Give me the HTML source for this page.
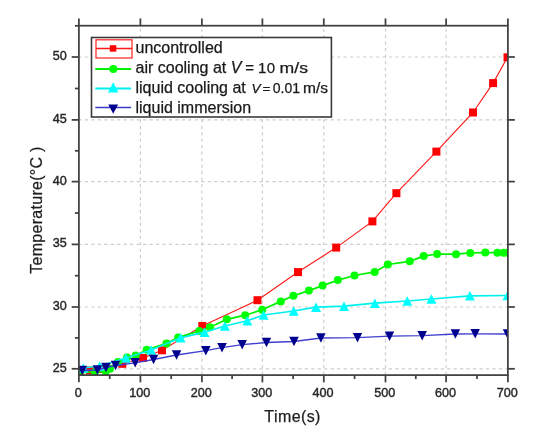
<!DOCTYPE html>
<html><head><meta charset="utf-8"><title>Temperature vs Time</title>
<style>
html,body{margin:0;padding:0;background:#fff;}
body{width:550px;height:440px;overflow:hidden;}
svg{display:block;filter:blur(0.35px);}
</style></head><body>
<svg width="550" height="440" viewBox="0 0 550 440">
<defs><clipPath id="pa"><rect x="78.9" y="25.7" width="429.0" height="349.4"/></clipPath></defs>
<g stroke="#cdcdcd" stroke-width="1.2" stroke-dasharray="3.2 3.27"><line x1="140.4" y1="375.05" x2="140.4" y2="25.7" stroke-dashoffset="-0.28"/><line x1="201.9" y1="375.05" x2="201.9" y2="25.7" stroke-dashoffset="-0.28"/><line x1="262.4" y1="375.05" x2="262.4" y2="25.7" stroke-dashoffset="-0.28"/><line x1="323.8" y1="375.05" x2="323.8" y2="25.7" stroke-dashoffset="-0.28"/><line x1="385.5" y1="375.05" x2="385.5" y2="25.7" stroke-dashoffset="-0.28"/><line x1="446.1" y1="375.05" x2="446.1" y2="25.7" stroke-dashoffset="-0.28"/><line x1="78.9" y1="368.8" x2="507.85" y2="368.8" stroke-dashoffset="0.57"/><line x1="78.9" y1="307.0" x2="507.85" y2="307.0" stroke-dashoffset="0.57"/><line x1="78.9" y1="244.4" x2="507.85" y2="244.4" stroke-dashoffset="0.57"/><line x1="78.9" y1="181.6" x2="507.85" y2="181.6" stroke-dashoffset="0.57"/><line x1="78.9" y1="119.9" x2="507.85" y2="119.9" stroke-dashoffset="0.57"/><line x1="78.9" y1="57.0" x2="507.85" y2="57.0" stroke-dashoffset="0.57"/></g>
<g clip-path="url(#pa)">
<polyline points="80.0,373.0 89.9,370.5 101.0,369.0 122.3,363.8 143.1,358.0 162.0,350.3 202.3,326.0 257.5,300.2 298.0,272.1 336.2,247.6 372.4,221.4 396.4,193.2 436.4,151.6 473.0,112.5 493.1,83.1 507.5,57.3" fill="none" stroke="#ff1a1a" stroke-width="1.15"/>
<rect x="76.0" y="369.0" width="8" height="8" fill="#f00"/><rect x="85.9" y="366.5" width="8" height="8" fill="#f00"/><rect x="97.0" y="365.0" width="8" height="8" fill="#f00"/><rect x="118.3" y="359.8" width="8" height="8" fill="#f00"/><rect x="139.1" y="354.0" width="8" height="8" fill="#f00"/><rect x="158.0" y="346.3" width="8" height="8" fill="#f00"/><rect x="198.3" y="322.0" width="8" height="8" fill="#f00"/><rect x="253.5" y="296.2" width="8" height="8" fill="#f00"/><rect x="294.0" y="268.1" width="8" height="8" fill="#f00"/><rect x="332.2" y="243.6" width="8" height="8" fill="#f00"/><rect x="368.4" y="217.4" width="8" height="8" fill="#f00"/><rect x="392.4" y="189.2" width="8" height="8" fill="#f00"/><rect x="432.4" y="147.6" width="8" height="8" fill="#f00"/><rect x="469.0" y="108.5" width="8" height="8" fill="#f00"/><rect x="489.1" y="79.1" width="8" height="8" fill="#f00"/><rect x="503.5" y="53.3" width="8" height="8" fill="#f00"/>
<polyline points="79.5,372.7 95.0,372.0 105.5,371.5 110.0,368.7 118.0,362.0 127.0,357.5 135.7,355.4 146.7,349.7 166.5,343.4 178.2,337.4 199.2,331.0 210.0,327.2 226.8,319.3 245.2,315.2 262.2,309.7 280.8,301.4 293.4,295.8 308.9,290.6 322.6,285.6 337.8,280.1 354.5,275.5 374.7,271.9 387.8,264.5 409.7,261.3 423.7,256.1 437.1,254.0 456.0,254.2 470.3,252.9 485.3,252.6 497.4,252.7 503.7,252.7 507.5,252.7" fill="none" stroke="#00f000" stroke-width="1.7"/>
<circle cx="79.5" cy="372.7" r="4.0" fill="#0f0"/><circle cx="95.0" cy="372.0" r="4.0" fill="#0f0"/><circle cx="105.5" cy="371.5" r="4.0" fill="#0f0"/><circle cx="110.0" cy="368.7" r="4.0" fill="#0f0"/><circle cx="118.0" cy="362.0" r="4.0" fill="#0f0"/><circle cx="127.0" cy="357.5" r="4.0" fill="#0f0"/><circle cx="135.7" cy="355.4" r="4.0" fill="#0f0"/><circle cx="146.7" cy="349.7" r="4.0" fill="#0f0"/><circle cx="166.5" cy="343.4" r="4.0" fill="#0f0"/><circle cx="178.2" cy="337.4" r="4.0" fill="#0f0"/><circle cx="199.2" cy="331.0" r="4.0" fill="#0f0"/><circle cx="210.0" cy="327.2" r="4.0" fill="#0f0"/><circle cx="226.8" cy="319.3" r="4.0" fill="#0f0"/><circle cx="245.2" cy="315.2" r="4.0" fill="#0f0"/><circle cx="262.2" cy="309.7" r="4.0" fill="#0f0"/><circle cx="280.8" cy="301.4" r="4.0" fill="#0f0"/><circle cx="293.4" cy="295.8" r="4.0" fill="#0f0"/><circle cx="308.9" cy="290.6" r="4.0" fill="#0f0"/><circle cx="322.6" cy="285.6" r="4.0" fill="#0f0"/><circle cx="337.8" cy="280.1" r="4.0" fill="#0f0"/><circle cx="354.5" cy="275.5" r="4.0" fill="#0f0"/><circle cx="374.7" cy="271.9" r="4.0" fill="#0f0"/><circle cx="387.8" cy="264.5" r="4.0" fill="#0f0"/><circle cx="409.7" cy="261.3" r="4.0" fill="#0f0"/><circle cx="423.7" cy="256.1" r="4.0" fill="#0f0"/><circle cx="437.1" cy="254.0" r="4.0" fill="#0f0"/><circle cx="456.0" cy="254.2" r="4.0" fill="#0f0"/><circle cx="470.3" cy="252.9" r="4.0" fill="#0f0"/><circle cx="485.3" cy="252.6" r="4.0" fill="#0f0"/><circle cx="497.4" cy="252.7" r="4.0" fill="#0f0"/><circle cx="503.7" cy="252.7" r="4.0" fill="#0f0"/><circle cx="507.5" cy="252.7" r="4.0" fill="#0f0"/>
<polyline points="83.4,368.0 99.6,366.0 125.9,358.0 151.2,350.0 180.6,337.8 204.5,332.2 224.8,326.0 247.3,320.8 263.6,315.0 293.7,311.0 316.0,307.2 344.0,306.1 374.9,303.2 407.3,301.0 431.4,299.0 469.9,295.9 507.5,295.5" fill="none" stroke="#00f0f0" stroke-width="1.7"/>
<polygon points="78.4,372.8 88.4,372.8 83.4,363.2" fill="#0ff"/><polygon points="94.6,370.8 104.6,370.8 99.6,361.2" fill="#0ff"/><polygon points="120.9,362.8 130.9,362.8 125.9,353.2" fill="#0ff"/><polygon points="146.2,354.8 156.2,354.8 151.2,345.2" fill="#0ff"/><polygon points="175.6,342.6 185.6,342.6 180.6,333.1" fill="#0ff"/><polygon points="199.5,336.9 209.5,336.9 204.5,327.4" fill="#0ff"/><polygon points="219.8,330.8 229.8,330.8 224.8,321.2" fill="#0ff"/><polygon points="242.3,325.6 252.3,325.6 247.3,316.1" fill="#0ff"/><polygon points="258.6,319.8 268.6,319.8 263.6,310.2" fill="#0ff"/><polygon points="288.7,315.8 298.7,315.8 293.7,306.2" fill="#0ff"/><polygon points="311.0,311.9 321.0,311.9 316.0,302.4" fill="#0ff"/><polygon points="339.0,310.9 349.0,310.9 344.0,301.4" fill="#0ff"/><polygon points="369.9,307.9 379.9,307.9 374.9,298.4" fill="#0ff"/><polygon points="402.3,305.8 412.3,305.8 407.3,296.2" fill="#0ff"/><polygon points="426.4,303.8 436.4,303.8 431.4,294.2" fill="#0ff"/><polygon points="464.9,300.6 474.9,300.6 469.9,291.1" fill="#0ff"/><polygon points="502.5,300.2 512.5,300.2 507.5,290.8" fill="#0ff"/>
<polyline points="82.2,370.5 97.4,370.0 106.0,367.5 115.5,365.5 135.2,362.8 153.6,359.5 176.6,355.0 205.8,350.7 222.0,347.6 242.2,344.7 266.5,342.5 294.0,341.5 320.9,338.0 357.5,337.7 389.5,336.2 422.2,335.6 455.4,334.0 475.2,333.9 507.5,334.0" fill="none" stroke="#4040d0" stroke-width="1.35"/>
<polygon points="77.5,365.8 87.0,365.8 82.2,375.2" fill="#00008e"/><polygon points="92.7,365.2 102.2,365.2 97.4,374.8" fill="#00008e"/><polygon points="101.2,362.8 110.8,362.8 106.0,372.2" fill="#00008e"/><polygon points="110.8,360.8 120.2,360.8 115.5,370.2" fill="#00008e"/><polygon points="130.4,358.1 139.9,358.1 135.2,367.6" fill="#00008e"/><polygon points="148.8,354.8 158.3,354.8 153.6,364.2" fill="#00008e"/><polygon points="171.8,350.2 181.3,350.2 176.6,359.8" fill="#00008e"/><polygon points="201.1,345.9 210.6,345.9 205.8,355.4" fill="#00008e"/><polygon points="217.2,342.9 226.8,342.9 222.0,352.4" fill="#00008e"/><polygon points="237.4,339.9 246.9,339.9 242.2,349.4" fill="#00008e"/><polygon points="261.8,337.8 271.2,337.8 266.5,347.2" fill="#00008e"/><polygon points="289.2,336.8 298.8,336.8 294.0,346.2" fill="#00008e"/><polygon points="316.1,333.2 325.6,333.2 320.9,342.8" fill="#00008e"/><polygon points="352.8,332.9 362.2,332.9 357.5,342.4" fill="#00008e"/><polygon points="384.8,331.4 394.2,331.4 389.5,340.9" fill="#00008e"/><polygon points="417.4,330.9 426.9,330.9 422.2,340.4" fill="#00008e"/><polygon points="450.6,329.2 460.1,329.2 455.4,338.8" fill="#00008e"/><polygon points="470.4,329.1 479.9,329.1 475.2,338.6" fill="#00008e"/><polygon points="502.8,329.2 512.2,329.2 507.5,338.8" fill="#00008e"/>
</g>
<g stroke="#404040" stroke-width="1.75" fill="none"><rect x="78.9" y="25.7" width="429.0" height="349.4" fill="none"/><line x1="78.9" y1="375.05" x2="78.9" y2="382.35"/><line x1="78.9" y1="25.7" x2="78.9" y2="18.4"/><line x1="140.4" y1="375.05" x2="140.4" y2="382.35"/><line x1="140.4" y1="25.7" x2="140.4" y2="18.4"/><line x1="201.9" y1="375.05" x2="201.9" y2="382.35"/><line x1="201.9" y1="25.7" x2="201.9" y2="18.4"/><line x1="262.4" y1="375.05" x2="262.4" y2="382.35"/><line x1="262.4" y1="25.7" x2="262.4" y2="18.4"/><line x1="323.8" y1="375.05" x2="323.8" y2="382.35"/><line x1="323.8" y1="25.7" x2="323.8" y2="18.4"/><line x1="385.5" y1="375.05" x2="385.5" y2="382.35"/><line x1="385.5" y1="25.7" x2="385.5" y2="18.4"/><line x1="446.1" y1="375.05" x2="446.1" y2="382.35"/><line x1="446.1" y1="25.7" x2="446.1" y2="18.4"/><line x1="507.9" y1="375.05" x2="507.9" y2="382.35"/><line x1="507.9" y1="25.7" x2="507.9" y2="18.4"/><line x1="109.7" y1="375.05" x2="109.7" y2="379.05"/><line x1="171.2" y1="375.05" x2="171.2" y2="379.05"/><line x1="232.1" y1="375.05" x2="232.1" y2="379.05"/><line x1="293.1" y1="375.05" x2="293.1" y2="379.05"/><line x1="354.6" y1="375.05" x2="354.6" y2="379.05"/><line x1="415.8" y1="375.05" x2="415.8" y2="379.05"/><line x1="477.0" y1="375.05" x2="477.0" y2="379.05"/><line x1="78.9" y1="368.8" x2="71.7" y2="368.8"/><line x1="507.85" y1="368.8" x2="514.85" y2="368.8"/><line x1="78.9" y1="307.0" x2="71.7" y2="307.0"/><line x1="507.85" y1="307.0" x2="514.85" y2="307.0"/><line x1="78.9" y1="244.4" x2="71.7" y2="244.4"/><line x1="507.85" y1="244.4" x2="514.85" y2="244.4"/><line x1="78.9" y1="181.6" x2="71.7" y2="181.6"/><line x1="507.85" y1="181.6" x2="514.85" y2="181.6"/><line x1="78.9" y1="119.9" x2="71.7" y2="119.9"/><line x1="507.85" y1="119.9" x2="514.85" y2="119.9"/><line x1="78.9" y1="57.0" x2="71.7" y2="57.0"/><line x1="507.85" y1="57.0" x2="514.85" y2="57.0"/><line x1="78.9" y1="337.9" x2="74.9" y2="337.9"/><line x1="78.9" y1="275.7" x2="74.9" y2="275.7"/><line x1="78.9" y1="213.0" x2="74.9" y2="213.0"/><line x1="78.9" y1="150.8" x2="74.9" y2="150.8"/><line x1="78.9" y1="88.5" x2="74.9" y2="88.5"/><line x1="78.9" y1="25.8" x2="74.9" y2="25.8"/></g>
<g font-family="Liberation Sans, Arial, sans-serif" font-size="12.6" fill="#262626" stroke="#262626" stroke-width="0.4"><text x="78.2" y="396.5" text-anchor="middle">0</text><text x="139.7" y="396.5" text-anchor="middle">100</text><text x="201.2" y="396.5" text-anchor="middle">200</text><text x="261.7" y="396.5" text-anchor="middle">300</text><text x="323.1" y="396.5" text-anchor="middle">400</text><text x="384.8" y="396.5" text-anchor="middle">500</text><text x="445.4" y="396.5" text-anchor="middle">600</text><text x="507.2" y="396.5" text-anchor="middle">700</text><text x="66.8" y="371.8" text-anchor="end">25</text><text x="66.8" y="310.0" text-anchor="end">30</text><text x="66.8" y="247.4" text-anchor="end">35</text><text x="66.8" y="184.6" text-anchor="end">40</text><text x="66.8" y="122.9" text-anchor="end">45</text><text x="66.8" y="60.0" text-anchor="end">50</text></g>
<text x="292.6" y="422.3" text-anchor="middle" font-family="Liberation Sans, Arial, sans-serif" font-size="16" fill="#1e1e1e" stroke="#1e1e1e" stroke-width="0.25" letter-spacing="0.42">Time(s)</text>
<text transform="translate(41.6,273.7) rotate(-90)" x="0" y="0" font-family="Liberation Sans, Arial, sans-serif" font-size="16" fill="#1e1e1e" stroke="#1e1e1e" stroke-width="0.25" letter-spacing="0.28">Temperature(°C )</text>
<rect x="91.5" y="37.5" width="239.9" height="79.5" fill="#fff" stroke="#3a3a3a" stroke-width="1.6"/><rect x="96" y="39.8" width="36" height="18.2" fill="none" stroke="#ff2020" stroke-width="1.2"/><line x1="96" y1="48.5" x2="132" y2="48.5" stroke="#ff1a1a" stroke-width="1.3"/><rect x="109.8" y="45.2" width="6.5" height="6.5" fill="#f00"/><line x1="95.3" y1="69" x2="131.1" y2="69" stroke="#00f000" stroke-width="2"/><circle cx="113.3" cy="69" r="4.1" fill="#0f0"/><line x1="95.3" y1="88.4" x2="131.1" y2="88.4" stroke="#00f0f0" stroke-width="2"/><polygon points="108,92.4 118.4,92.4 113.2,82.3" fill="#0ff"/><line x1="95.3" y1="107.5" x2="131.1" y2="107.5" stroke="#3a3acc" stroke-width="1.6"/><polygon points="108.3,104.6 118.1,104.6 113.2,113.8" fill="#00008e"/><text x="135.5" y="52.8" font-size="16" font-family="Liberation Sans, Arial, sans-serif" fill="#1a1a1a" stroke="#1a1a1a" stroke-width="0.25">uncontrolled</text><text x="135.5" y="73.3" font-size="16" font-family="Liberation Sans, Arial, sans-serif" fill="#1a1a1a" stroke="#1a1a1a" stroke-width="0.25">air cooling at <tspan font-style="italic">V</tspan><tspan x="245.3" font-size="15">=</tspan><tspan x="258.0" font-size="15" textLength="17" lengthAdjust="spacing">10</tspan><tspan x="279.6" font-size="15" textLength="28.4" lengthAdjust="spacingAndGlyphs">m/s</tspan></text><text x="135.5" y="92.9" font-size="16" font-family="Liberation Sans, Arial, sans-serif" fill="#1a1a1a" stroke="#1a1a1a" stroke-width="0.25">liquid cooling at <tspan x="251.5" font-style="italic" font-size="13.5">V</tspan><tspan x="262.6" font-size="13.5">=</tspan><tspan x="272.8" font-size="14">0.01</tspan><tspan x="303.1" font-size="14" textLength="25" lengthAdjust="spacingAndGlyphs">m/s</tspan></text><text x="135.5" y="112.6" font-size="16" font-family="Liberation Sans, Arial, sans-serif" fill="#1a1a1a" stroke="#1a1a1a" stroke-width="0.25">liquid immersion</text>
</svg>
</body></html>
